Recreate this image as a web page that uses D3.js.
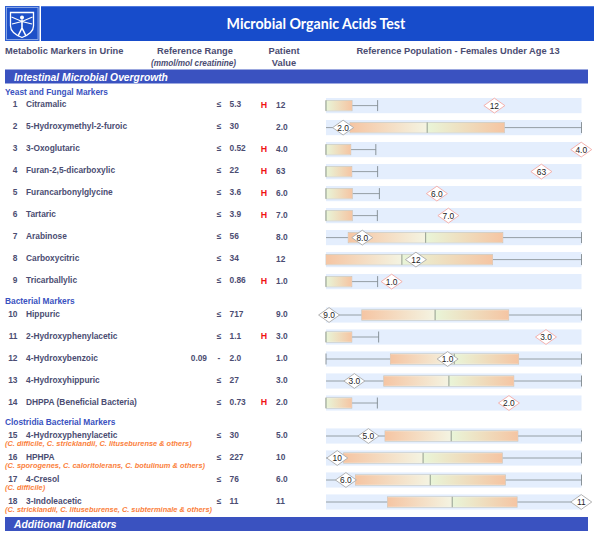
<!DOCTYPE html>
<html>
<head>
<meta charset="utf-8">
<script src="https://cdnjs.cloudflare.com/ajax/libs/d3/7.8.5/d3.min.js"></script>
<style>
  html, body { margin: 0; padding: 0; background: #fff; }
  text { font-family: "Liberation Sans", Arial, sans-serif; }
</style>
</head>
<body>
<svg id="chart"></svg>
<script>
// Organic acids report - one range track per marker

const markers = ["Citramalic", "5-Hydroxymethyl-2-furoic", "3-Oxoglutaric", "Furan-2,5-dicarboxylic",
  "Furancarbonylglycine", "Tartaric", "Arabinose", "Carboxycitric", "Tricarballylic",
  "Hippuric", "2-Hydroxyphenylacetic", "4-Hydroxybenzoic", "4-Hydroxyhippuric", "DHPPA (Beneficial Bacteria)",
  "4-Hydroxyphenylacetic", "HPHPA", "4-Cresol", "3-Indoleacetic"];
const groupNames = ["Yeast and Fungal Markers", "Bacterial Markers", "Clostridia Bacterial Markers"];
const groupSizes = [9, 5, 4];
const species = {
  15: "(C. difficile, C. stricklandii, C. lituseburense & others)",
  16: "(C. sporogenes, C. caloritolerans, C. botulinum & others)",
  17: "(C. difficile)",
  18: "(C. stricklandii, C. lituseburense, C. subterminale & others)"
};
const refLow = { 12: "0.09" };
const refHigh = ["5.3", "30", "0.52", "22", "3.6", "3.9", "56", "34", "0.86",
  "717", "1.1", "2.0", "27", "0.73", "30", "227", "76", "11"];
const patient = ["12", "2.0", "4.0", "63", "6.0", "7.0", "8.0", "12", "1.0",
  "9.0", "3.0", "1.0", "3.0", "2.0", "5.0", "10", "6.0", "11"];
const flagged = [1, 3, 4, 5, 6, 9, 11, 14];

// as percent along the population track
const boxLow = [0, 9.4, 0, 0, 0, 0, 8.7, 0, 0, 14, 0, 25.2, 22.6, 0, 23.1, 6.9, 11.5, 24.1];
const boxMid = [0, 39.6, 0, 0, 0, 0, 39, 29.7, 0, 42.7, 0, 50.2, 48.1, 0, 49, 38, 40.8, 49.4];
const boxHigh = [10.2, 69.8, 9.7, 10.1, 10.3, 10.3, 69.2, 65.2, 10.1, 71.5, 10.1, 75.4, 73.5, 10.1, 75.1, 69, 70.2, 74.8];
const whisker = [20.2, 100, 19.5, 20.2, 20.9, 20.1, 100, 100, 20.2, 100, 20.6, 100, 100, 20.1, 100, 100, 100, 100];
const markerPos = [65.9, 6.7, 99.9, 84.3, 43.4, 47.9, 14.2, 35.2, 25.7, 1.2, 86.1, 47.6, 11.1, 71.6, 16.6, 4.4, 7.8, 99.9];

const W = 600, H = 539;
const INK = "#4b4d72", BLUE = "#3a52c0", ORANGE = "#fb7f3c";

const svg = d3.select("#chart").attr("width", W).attr("height", H).style("display", "block");

const x = d3.scaleLinear().domain([0, 100]).range([326, 581.5]);

// row centres: each group starts on its own offset, rows are 22px apart
const groupTop = [105.6, 315, 436];
const rowY = [];
groupSizes.forEach((n, g) => d3.range(n).forEach(i => rowY.push(groupTop[g] + i * 22)));

const defs = svg.append("defs");
function gradient(id, from, to) {
  const g = defs.append("linearGradient").attr("id", id);
  g.append("stop").attr("offset", "0%").attr("stop-color", from);
  g.append("stop").attr("offset", "100%").attr("stop-color", to);
}
gradient("leftHalf", "#f5c5a3", "#f4f4e2");
gradient("rightHalf", "#e9f5d8", "#f5c5a3");

// Banner
svg.append("rect").attr("x", 5).attr("y", 6).attr("width", 34.5).attr("height", 35)
  .attr("fill", "#2f5fd0");
svg.append("rect").attr("x", 6.5).attr("y", 7.5).attr("width", 31.5).attr("height", 32)
  .attr("fill", "#1d50c8").attr("stroke", "#9db6ea").attr("stroke-width", 0.8);
svg.append("rect").attr("x", 41).attr("y", 6).attr("width", 553).attr("height", 35)
  .attr("fill", "#174ccb");
svg.append("rect").attr("x", 41).attr("y", 6).attr("width", 553).attr("height", 1)
  .attr("fill", "#4f78dc");

const logo = svg.append("g").attr("fill", "none").attr("stroke", "#fff");
logo.append("path").attr("stroke-width", 1.3)
  .attr("d", "M10.5,12.5 L33.5,12.5 L33.5,26 Q33.5,33 22,37.5 Q10.5,33 10.5,26 Z");
logo.append("circle").attr("cx", 22).attr("cy", 17.5).attr("r", 2).attr("fill", "#fff").attr("stroke", "none");
logo.append("path").attr("stroke-width", 1.6).attr("d", "M22,19.5 L22,28 M22,28 L18,36 M22,28 L26,36");
logo.append("path").attr("stroke-width", 1.1).attr("d", "M11.5,17 L22,21.5 L32.5,17 M12,24 L22,21.5 L32,24");

svg.append("text").attr("x", 316).attr("y", 28.5)
  .attr("text-anchor", "middle")
  .attr("fill", "#fff")
  .style("font-family", "Lato, sans-serif")
  .attr("font-size", 14.2)
  .attr("font-weight", 700)
  .text("Microbial Organic Acids Test");

// Column heads
function head(t, xp, yp, anchor, size, italic) {
  svg.append("text").attr("x", xp).attr("y", yp)
    .attr("text-anchor", anchor)
    .attr("fill", INK)
    .attr("font-size", size)
    .attr("font-weight", 700)
    .attr("font-style", italic ? "italic" : "normal")
    .text(t);
}
head("Metabolic Markers in Urine", 5, 53.5, "start", 9.3);
head("Reference Range", 195, 53.5, "middle", 9.3);
head("(mmol/mol creatinine)", 193.5, 65.5, "middle", 8.2, true);
head("Patient", 284, 53.5, "middle", 9.3);
head("Value", 284, 66, "middle", 9.3);
head("Reference Population - Females Under Age 13", 458, 54, "middle", 9.3);

// Section bars
function section(t, yp) {
  svg.append("rect").attr("x", 5).attr("y", yp).attr("width", 583).attr("height", 14)
    .attr("fill", BLUE);
  svg.append("text").attr("x", 14).attr("y", yp + 11)
    .attr("fill", "#fff")
    .attr("font-size", 10.3)
    .attr("font-weight", 700)
    .attr("font-style", "italic")
    .text(t);
}
section("Intestinal Microbial Overgrowth", 69.5);
section("Additional Indicators", 517);

groupNames.forEach((t, g) => {
  svg.append("text").attr("x", 5).attr("y", groupTop[g] - 10.8)
    .attr("fill", BLUE)
    .attr("font-size", 8.35)
    .attr("font-weight", 700)
    .text(t);
});

// One row per marker
const rows = svg.append("g").selectAll("g")
  .data(markers)
  .join("g")
  .attr("transform", (d, i) => `translate(0,${rowY[i]})`);

function cell(sel, xp, dy, anchor, txt, fill, size) {
  return sel.append("text")
    .attr("x", xp).attr("y", dy)
    .attr("text-anchor", anchor)
    .attr("fill", fill || INK)
    .attr("font-size", size || 8.35)
    .attr("font-weight", 700)
    .text(txt);
}

rows.each(function (name, i) {
  const row = d3.select(this);
  const n = i + 1;
  const high = flagged.includes(n);

  cell(row, 17.5, 1.7, "end", n);
  cell(row, 26, 1.7, "start", name);
  if (refLow[n]) {
    cell(row, 207, 1.7, "end", refLow[n]);
    cell(row, 219, 1.7, "middle", "-");
  } else {
    cell(row, 219, 1.7, "middle", "≤");
  }
  cell(row, 229.5, 1.7, "start", refHigh[i]);
  if (high) cell(row, 264, 2, "middle", "H", "#f01414", 8.8);
  cell(row, 276, 2.4, "start", patient[i]);

  if (species[n]) {
    cell(row, 5, 9.8, "start", species[n], ORANGE, 7.42).attr("font-style", "italic");
  }

  // Track
  row.append("rect")
    .attr("x", x(0)).attr("y", -7.6)
    .attr("width", x(100) - x(0)).attr("height", 15.2)
    .attr("fill", "#e4eefd");

  // Whisker
  const lo = boxLow[i], mid = boxMid[i], hi = boxHigh[i], end = whisker[i];
  row.append("line")
    .attr("x1", x(0)).attr("x2", x(end))
    .attr("stroke", "#8c959b").attr("stroke-width", 0.9);
  row.append("line")
    .attr("x1", x(end)).attr("x2", x(end))
    .attr("y1", -5.5).attr("y2", 5.5)
    .attr("stroke", "#7f898f").attr("stroke-width", 0.9);
  if (n === 12) {
    row.append("line")
      .attr("x1", x(0)).attr("x2", x(0))
      .attr("y1", -5.5).attr("y2", 5.5)
      .attr("stroke", "#7f898f").attr("stroke-width", 0.9);
  }

  // Box, split at the median
  row.append("rect")
    .attr("x", x(lo)).attr("y", -5.2)
    .attr("width", x(hi) - x(lo)).attr("height", 10.4)
    .attr("fill", "#fff").attr("stroke", "#c4c6c0").attr("stroke-width", 0.8);
  if (mid > lo) {
    row.append("rect")
      .attr("x", x(lo)).attr("y", -4.8)
      .attr("width", x(mid) - x(lo)).attr("height", 9.6)
      .attr("fill", "url(#leftHalf)");
  }
  row.append("rect")
    .attr("x", x(mid)).attr("y", -4.8)
    .attr("width", x(hi) - x(mid)).attr("height", 9.6)
    .attr("fill", "url(#rightHalf)");
  row.append("line")
    .attr("x1", x(mid)).attr("x2", x(mid))
    .attr("y1", -5.2).attr("y2", 5.2)
    .attr("stroke", "#929c8e").attr("stroke-width", 1);

  // Patient diamond
  const mx = x(markerPos[i]);
  row.append("path")
    .attr("d", `M${mx - 10.5},0 L${mx},-7.4 L${mx + 10.5},0 L${mx},7.4 Z`)
    .attr("fill", "#fff")
    .attr("stroke", high ? "#f4a9a4" : "#a9a9a9")
    .attr("stroke-width", 0.9);
  row.append("text")
    .attr("x", mx).attr("y", 3)
    .attr("text-anchor", "middle")
    .attr("fill", "#222")
    .attr("font-size", 8.4)
    .text(patient[i]);
});
</script>
</body>
</html>
